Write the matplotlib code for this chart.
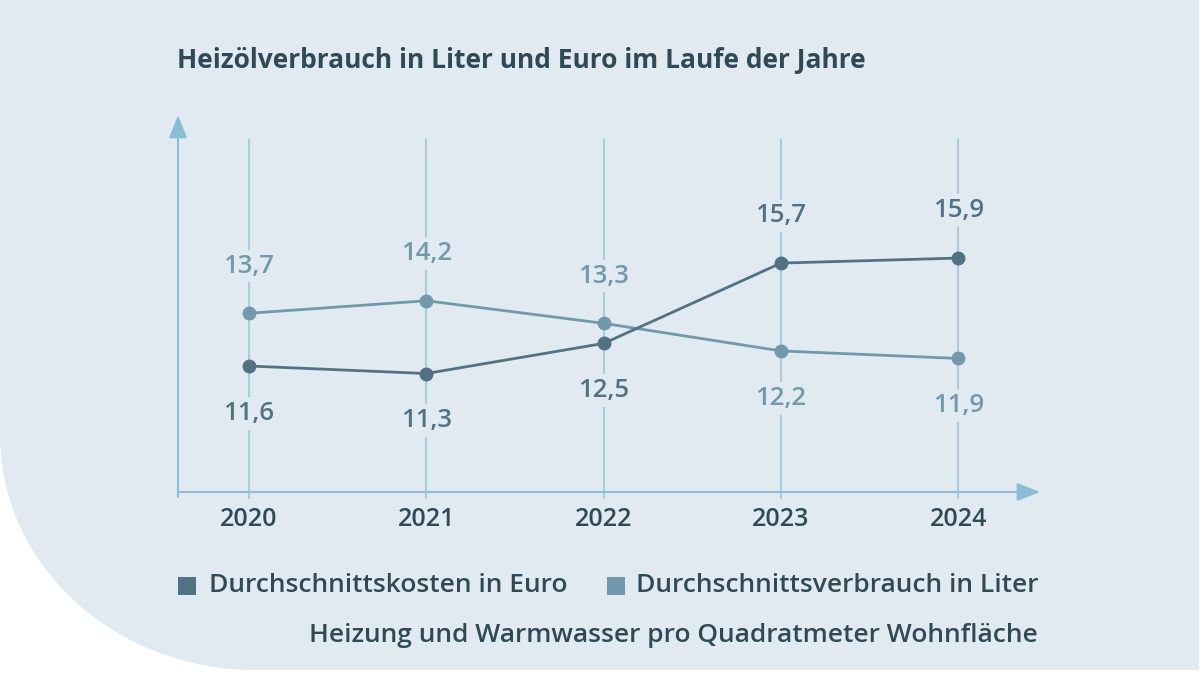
import numpy as np
import matplotlib
matplotlib.use("Agg")
import matplotlib.pyplot as plt
from matplotlib.patches import Polygon, Rectangle

plt.rcParams['font.family'] = ['Open Sans', 'DejaVu Sans']

# data
years = [2020, 2021, 2022, 2023, 2024]
kosten_euro = [11.6, 11.3, 12.5, 15.7, 15.9]
verbrauch_liter = [13.7, 14.2, 13.3, 12.2, 11.9]
euro_label_oben = [False, False, False, True, True]
liter_label_oben = [True, True, True, False, False]

title = "Heizölverbrauch in Liter und Euro im Laufe der Jahre"
legend_labels = ["Durchschnittskosten in Euro", "Durchschnittsverbrauch in Liter"]
footnote = "Heizung und Warmwasser pro Quadratmeter Wohnfläche"

bg = '#e1eaf0'
dark = '#527283'
light = '#7299ab'
grid_c = '#a9cde0'
arrow_c = '#8bbdd6'
text_c = '#2f4956'

W, H = 1200, 673
fig = plt.figure(figsize=(W / 100, H / 100), dpi=100, facecolor='white')

# background shape with big rounded bottom-left corner
r_x, r_y = 255, 235
bottom = 670
t = np.linspace(np.pi, 1.5 * np.pi, 60)
arc_x = r_x + r_x * np.cos(t)
arc_y = (bottom - r_y) - r_y * np.sin(t)
pts = [(0, 0), (1199, 0), (1199, bottom)] + list(zip(arc_x[::-1], arc_y[::-1])) + [(0, bottom - r_y)]
pts = [(x / W, 1 - y / H) for x, y in pts]
fig.patches.append(Polygon(pts, closed=True, transform=fig.transFigure,
                           facecolor=bg, edgecolor='none', zorder=-10))

ax = fig.add_axes([178 / W, 1 - 492 / H, 862 / W, 377 / H])
ax.set_zorder(5)
ax.set_facecolor('none')
ax.set_xlim(2019.6, 2024.46)
ax.set_ylim(6.58, 21.6)
for s in ax.spines.values():
    s.set_visible(False)
ax.set_yticks([])
ax.set_xticks(years)
ax.set_xticklabels([str(y) for y in years], fontsize=18, fontweight='semibold', color=text_c)
ax.tick_params(axis='x', length=5, width=1.5, color=grid_c, pad=6)

# vertical grid lines (stop below top)
grid_top = 21.6 - (140 - 115) / 25.1
for y in years:
    ax.plot([y, y], [6.58, grid_top], color=grid_c, lw=1.5, zorder=1)

# axes with arrows
ax.annotate('', xy=(0, 1), xytext=(0, -0.013), xycoords='axes fraction',
            arrowprops=dict(arrowstyle='-|>,head_length=1.4,head_width=0.55',
                            color=arrow_c, lw=1.5, shrinkA=0, shrinkB=0))
ax.annotate('', xy=(1, 0), xytext=(0, 0), xycoords='axes fraction',
            arrowprops=dict(arrowstyle='-|>,head_length=1.4,head_width=0.55',
                            color=arrow_c, lw=1.5, shrinkA=0, shrinkB=0))

ax.plot(years, verbrauch_liter, color=light, lw=2, marker='o', ms=9, zorder=3)
ax.plot(years, kosten_euro, color=dark, lw=2, marker='o', ms=9, zorder=4)

def fmt(v):
    return f"{v:.1f}".replace('.', ',')

for x, v, oben in zip(years, kosten_euro, euro_label_oben):
    ax.annotate(fmt(v), (x, v), xytext=(0, 34 if oben else -34), textcoords='offset points',
                ha='center', va='center', fontsize=18.5, fontweight='semibold', color=dark,
                bbox=dict(boxstyle='square,pad=0.15', fc=bg, ec='none'), zorder=5)
for x, v, oben in zip(years, verbrauch_liter, liter_label_oben):
    ax.annotate(fmt(v), (x, v), xytext=(0, 34 if oben else -34), textcoords='offset points',
                ha='center', va='center', fontsize=18.5, fontweight='semibold', color=light,
                bbox=dict(boxstyle='square,pad=0.15', fc=bg, ec='none'), zorder=5)

# title
fig.text(177 / W, 1 - 60 / H, title, fontsize=19, fontweight='bold', color=text_c,
         ha='left', va='center')

# legend
sq = 18
for xpos, col in [(178, dark), (607, light)]:
    fig.patches.append(Rectangle((xpos / W, 1 - (586 + sq / 2) / H), sq / W, sq / H,
                                 transform=fig.transFigure, facecolor=col, edgecolor='none'))
fig.text(209 / W, 1 - 585 / H, legend_labels[0], fontsize=19, fontweight='semibold',
         color=text_c, ha='left', va='center')
fig.text(636 / W, 1 - 585 / H, legend_labels[1], fontsize=19, fontweight='semibold',
         color=text_c, ha='left', va='center')
fig.text(1038 / W, 1 - 635 / H, footnote, fontsize=19, fontweight='semibold',
         color=text_c, ha='right', va='center')

fig.savefig('out.png', dpi=100, facecolor='white')
